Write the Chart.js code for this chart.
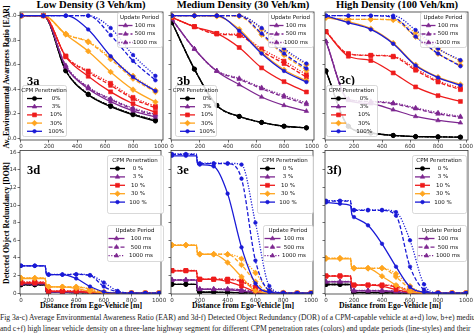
<!DOCTYPE html>
<html>
<head>
<meta charset="utf-8">
<script src="https://cdn.jsdelivr.net/npm/chart.js@4.4.0/dist/chart.umd.min.js"></script>
<style>
html, body { margin: 0; padding: 0; background: #fff; }
#fig { position: relative; width: 474px; height: 336px; overflow: hidden; }
#fig canvas { position: absolute; left: 0; top: 0; }
.head { position: absolute; top: -1px; font: bold 10.6px "Liberation Serif", serif; white-space: nowrap; transform: translateX(-50%); line-height: 12px; }
.ylab { position: absolute; font: bold 7.8px "Liberation Serif", serif; white-space: nowrap; transform: translate(-50%, -50%) rotate(-90deg); line-height: 9px; }
.xlab { position: absolute; top: 301px; font: bold 7.8px "Liberation Serif", serif; white-space: nowrap; transform: translateX(-50%); line-height: 9px; }
.cap { position: absolute; left: 0; font: 7.6px "Liberation Serif", serif; white-space: nowrap; line-height: 10px; color: #222; }
</style>
</head>
<body>
<div id="fig">
  <div class="head" style="left:91px">Low Density (3 Veh/km)</div>
  <div class="head" style="left:243px">Medium Density (30 Veh/km)</div>
  <div class="head" style="left:397px">High Density (100 Veh/km)</div>
  <div class="ylab" style="left:6px;top:77px">Av. Environmental Awareness Ratio [EAR]</div>
  <div class="ylab" style="left:6px;top:223px">Detected Object Redundancy [DOR]</div>
  <div class="xlab" style="left:91px">Distance from Ego-Vehicle [m]</div>
  <div class="xlab" style="left:243px">Distance from Ego-Vehicle [m]</div>
  <div class="xlab" style="left:390px">Distance from Ego-Vehicle [m]</div>
  <div class="cap" style="top:313px">Fig 3a-c) Average Environmental Awareness Ratio (EAR) and 3d-f) Detected Object Redundancy (DOR) of a CPM-capable vehicle at a+d) low, b+e) medium,</div>
  <div class="cap" style="top:324px">and c+f) high linear vehicle density on a three-lane highway segment for different CPM penetration rates (colors) and update periods (line-styles) and their</div>
</div>
<script>
// x positions and tick labels
const distTop = [0, 160, 320, 480, 640, 800, 960];
const distBottom = [0, 100, 175, 185, 200, 300, 400, 500, 600, 700, 800, 900, 1000];
const distTicks = [0, 200, 400, 600, 800, 1000];
const earTicks = [0, 0.2, 0.4, 0.6, 0.8, 1.0];
const dorTicks = [0, 2, 4, 6, 8, 10, 12, 14, 16];

const penetrationLabels = ['0%', '3%', '10%', '30%', '100%'];
const periodLabels = ['100 ms', '500 ms', '1000 ms'];

// EAR, low density (rows: 100 ms, 500 ms, 1000 ms)
const earLow0 = [[1, 1, 0.55, 0.357, 0.26, 0.193, 0.142], [1, 1, 0.553, 0.36, 0.264, 0.197, 0.146], [1, 1, 0.555, 0.362, 0.267, 0.2, 0.15]];
const earLow3 = [[1, 1, 0.583, 0.405, 0.3, 0.225, 0.175], [1, 1, 0.59, 0.414, 0.318, 0.24, 0.19], [1, 1, 0.595, 0.42, 0.325, 0.248, 0.198]];
const earLow10 = [[1, 1, 0.665, 0.507, 0.38, 0.283, 0.213], [1, 1, 0.67, 0.54, 0.433, 0.324, 0.25], [1, 1, 0.672, 0.55, 0.45, 0.335, 0.262]];
const earLow30 = [[1, 1, 0.847, 0.711, 0.542, 0.398, 0.297], [1, 1, 0.85, 0.785, 0.646, 0.488, 0.379], [1, 1, 0.852, 0.79, 0.66, 0.51, 0.392]];
const earLow100 = [[1, 1, 1, 0.888, 0.67, 0.501, 0.387], [1, 1, 1, 1, 0.842, 0.632, 0.474], [1, 1, 1, 1, 0.9, 0.68, 0.51]];

// EAR, medium density
const earMed0 = [[0.945, 0.565, 0.27, 0.18, 0.131, 0.1, 0.087], [0.945, 0.565, 0.27, 0.18, 0.131, 0.1, 0.087], [0.945, 0.565, 0.27, 0.18, 0.131, 0.1, 0.087]];
const earMed3 = [[0.97, 0.73, 0.548, 0.439, 0.338, 0.27, 0.223], [0.97, 0.73, 0.55, 0.482, 0.406, 0.338, 0.278], [0.97, 0.73, 0.552, 0.49, 0.415, 0.35, 0.29]];
const earMed10 = [[0.986, 0.91, 0.856, 0.741, 0.575, 0.463, 0.379], [0.986, 0.91, 0.85, 0.837, 0.711, 0.61, 0.5], [0.986, 0.912, 0.855, 0.845, 0.73, 0.63, 0.52]];
const earMed30 = [[1, 1, 0.995, 0.89, 0.7, 0.56, 0.47], [1, 1, 1, 0.995, 0.845, 0.68, 0.555], [1, 1, 1, 1, 0.89, 0.72, 0.6]];
const earMed100 = [[1, 1, 1, 0.877, 0.692, 0.55, 0.46], [1, 1, 1, 1, 0.855, 0.692, 0.57], [1, 1, 1, 1, 0.9, 0.733, 0.61]];

// EAR, high density
const earHigh0 = [[0.55, 0.1, 0.045, 0.025, 0.016, 0.014, 0.011], [0.55, 0.1, 0.045, 0.025, 0.016, 0.014, 0.011], [0.55, 0.1, 0.045, 0.025, 0.016, 0.014, 0.011]];
const earHigh3 = [[0.79, 0.31, 0.283, 0.234, 0.18, 0.147, 0.128], [0.79, 0.32, 0.3, 0.283, 0.243, 0.2, 0.174], [0.79, 0.32, 0.302, 0.29, 0.25, 0.21, 0.18]];
const earHigh10 = [[0.87, 0.67, 0.635, 0.534, 0.42, 0.349, 0.302], [0.87, 0.69, 0.676, 0.665, 0.556, 0.46, 0.398], [0.87, 0.69, 0.678, 0.67, 0.57, 0.47, 0.41]];
const earHigh30 = [[0.985, 0.95, 0.894, 0.777, 0.6, 0.5, 0.44], [0.985, 0.97, 0.97, 0.965, 0.828, 0.69, 0.597], [0.985, 0.97, 0.97, 0.97, 0.86, 0.73, 0.63]];
const earHigh100 = [[1, 0.943, 0.888, 0.771, 0.594, 0.496, 0.433], [1, 1, 1, 0.986, 0.83, 0.692, 0.589], [1, 1, 1, 1, 0.883, 0.733, 0.638]];

// DOR, low density
const dorLow0 = [[0.95, 0.95, 0.95, 0.08, 0.08, 0.08, 0.06, 0.03, 0.01, 0, 0, 0, 0], [0.95, 0.95, 0.95, 0.08, 0.08, 0.08, 0.06, 0.03, 0.01, 0, 0, 0, 0], [0.95, 0.95, 0.95, 0.08, 0.08, 0.08, 0.06, 0.03, 0.01, 0, 0, 0, 0]];
const dorLow3 = [[1.05, 1.05, 1.05, 0.12, 0.12, 0.12, 0.1, 0.05, 0.02, 0, 0, 0, 0], [1.05, 1.05, 1.05, 0.12, 0.12, 0.12, 0.12, 0.08, 0.03, 0, 0, 0, 0], [1.07, 1.07, 1.07, 0.13, 0.13, 0.13, 0.13, 0.1, 0.04, 0, 0, 0, 0]];
const dorLow10 = [[1.15, 1.15, 1.15, 0.2, 0.2, 0.2, 0.18, 0.08, 0.02, 0, 0, 0, 0], [1.22, 1.22, 1.22, 0.22, 0.22, 0.22, 0.22, 0.15, 0.04, 0, 0, 0, 0], [1.28, 1.28, 1.28, 0.24, 0.24, 0.24, 0.24, 0.18, 0.06, 0, 0, 0, 0]];
const dorLow30 = [[1.66, 1.66, 1.66, 0.72, 0.72, 0.7, 0.55, 0.2, 0.05, 0, 0, 0, 0], [1.7, 1.7, 1.7, 0.72, 0.72, 0.72, 0.7, 0.45, 0.1, 0.01, 0, 0, 0], [1.72, 1.72, 1.72, 0.72, 0.72, 0.72, 0.72, 0.5, 0.15, 0.02, 0, 0, 0]];
const dorLow100 = [[3.1, 3.1, 3.1, 2.1, 2.1, 2.1, 1.66, 0.75, 0.15, 0.02, 0, 0, 0], [3.1, 3.1, 3.1, 2.1, 2.1, 2.1, 2.12, 2.0, 0.75, 0.15, 0.01, 0, 0], [3.12, 3.12, 3.12, 2.12, 2.12, 2.12, 2.15, 2.05, 1.2, 0.25, 0.02, 0, 0]];

// DOR, medium density
const dorMed0 = [[1.0, 1.0, 1.0, 0.1, 0.1, 0.1, 0.08, 0.04, 0.01, 0, 0, 0, 0], [1.0, 1.0, 1.0, 0.1, 0.1, 0.1, 0.08, 0.04, 0.01, 0, 0, 0, 0], [1.0, 1.0, 1.0, 0.1, 0.1, 0.1, 0.08, 0.04, 0.01, 0, 0, 0, 0]];
const dorMed3 = [[1.47, 1.47, 1.47, 0.42, 0.42, 0.42, 0.38, 0.22, 0.06, 0.01, 0, 0, 0], [1.5, 1.5, 1.5, 0.45, 0.45, 0.45, 0.45, 0.35, 0.12, 0.02, 0, 0, 0], [1.52, 1.52, 1.52, 0.47, 0.47, 0.47, 0.47, 0.4, 0.18, 0.03, 0, 0, 0]];
const dorMed10 = [[2.53, 2.53, 2.53, 1.55, 1.55, 1.55, 1.3, 0.8, 0.2, 0.02, 0, 0, 0], [2.55, 2.55, 2.55, 1.58, 1.58, 1.58, 1.55, 1.3, 0.5, 0.05, 0, 0, 0], [2.57, 2.57, 2.57, 1.6, 1.6, 1.6, 1.6, 1.4, 0.7, 0.1, 0.01, 0, 0]];
const dorMed30 = [[5.43, 5.43, 5.43, 4.4, 4.4, 4.4, 3.47, 1.85, 0.25, 0.03, 0, 0, 0], [5.45, 5.45, 5.45, 4.42, 4.42, 4.42, 4.4, 3.2, 1.3, 0.1, 0, 0, 0], [5.47, 5.47, 5.47, 4.44, 4.44, 4.44, 4.42, 3.9, 2.3, 0.3, 0.02, 0, 0]];
const dorMed100 = [[15.6, 15.6, 15.6, 14.6, 14.6, 14.4, 11.3, 5.2, 1.1, 0.1, 0, 0, 0], [15.75, 15.75, 15.75, 14.7, 14.7, 14.7, 14.7, 13.0, 3.7, 0.3, 0.02, 0, 0], [15.8, 15.8, 15.8, 14.75, 14.75, 14.75, 14.75, 14.6, 8.0, 0.8, 0.05, 0, 0]];

// DOR, high density
const dorHigh0 = [[0.98, 0.98, 0.98, 0.05, 0.05, 0.05, 0.04, 0.02, 0.01, 0, 0, 0, 0], [0.98, 0.98, 0.98, 0.05, 0.05, 0.05, 0.04, 0.02, 0.01, 0, 0, 0, 0], [0.98, 0.98, 0.98, 0.05, 0.05, 0.05, 0.04, 0.02, 0.01, 0, 0, 0, 0]];
const dorHigh3 = [[1.28, 1.28, 1.28, 0.26, 0.26, 0.26, 0.22, 0.12, 0.03, 0, 0, 0, 0], [1.3, 1.3, 1.3, 0.28, 0.28, 0.28, 0.28, 0.2, 0.06, 0.01, 0, 0, 0], [1.32, 1.32, 1.32, 0.3, 0.3, 0.3, 0.3, 0.24, 0.1, 0.02, 0, 0, 0]];
const dorHigh10 = [[1.92, 1.92, 1.92, 0.9, 0.9, 0.9, 0.8, 0.4, 0.1, 0.01, 0, 0, 0], [1.95, 1.95, 1.95, 0.92, 0.92, 0.92, 0.92, 0.7, 0.2, 0.02, 0, 0, 0], [1.97, 1.97, 1.97, 0.93, 0.93, 0.93, 0.93, 0.8, 0.35, 0.05, 0, 0, 0]];
const dorHigh30 = [[3.9, 3.9, 3.9, 2.8, 2.8, 2.8, 1.92, 0.9, 0.15, 0.01, 0, 0, 0], [3.95, 3.95, 3.95, 2.82, 2.82, 2.82, 2.82, 1.85, 0.5, 0.05, 0, 0, 0], [3.97, 3.97, 3.97, 2.85, 2.85, 2.85, 2.85, 2.2, 0.8, 0.08, 0, 0, 0]];
const dorHigh100 = [[10.3, 10.15, 9.95, 8.9, 8.64, 7.7, 5.6, 3.0, 0.7, 0.1, 0, 0, 0], [10.45, 10.45, 10.45, 9.4, 9.4, 9.4, 9.4, 8.8, 3.0, 0.4, 0.02, 0, 0], [10.5, 10.5, 10.5, 9.45, 9.45, 9.45, 9.45, 9.2, 6.0, 1.0, 0.05, 0, 0]];

// styles per penetration / per update period
const colors = ['#000000', '#7d2790', '#ee1c1c', '#ffa51f', '#1a1ad6'];
const markers = ['circle', 'triangle', 'rect', 'rectRot', 'circle'];
const markerSizes = [2.1, 2.6, 2.8, 2.8, 1.8];
const dashes = [[], [4, 2], [1.2, 1.5]];

const W = 474, H = 336;
const fig = document.getElementById('fig');

function drawMarker(ctx, style, r, x, y, color) {
    ctx.fillStyle = color;
    ctx.strokeStyle = color;
    ctx.lineWidth = 0.6;
    if (Chart.helpers && Chart.helpers.drawPoint) {
        Chart.helpers.drawPoint(ctx, { pointStyle: style, rotation: 0, radius: r, borderWidth: 0.6 }, x, y);
    } else {
        ctx.beginPath();
        ctx.arc(x, y, r, 0, Math.PI * 2);
        ctx.fill();
    }
}

function drawLegend(ctx, lg) {
    ctx.save();
    ctx.fillStyle = 'rgba(255,255,255,0.85)';
    ctx.strokeStyle = '#c8c8c8';
    ctx.lineWidth = 0.7;
    ctx.beginPath();
    ctx.roundRect(lg.x + 0.5, lg.y + 0.5, lg.w, lg.h, 2);
    ctx.fill();
    ctx.stroke();

    ctx.font = '5.5px "DejaVu Sans"';
    ctx.textAlign = 'center';
    ctx.textBaseline = 'middle';
    ctx.fillStyle = '#111';
    ctx.fillText(lg.title, lg.x + lg.w / 2, lg.y + 5.5);

    lg.items.forEach((it, k) => {
        const yy = lg.y + 13.5 + k * lg.step;
        const x0 = lg.x + lg.lx, x1 = x0 + lg.ll;
        ctx.strokeStyle = it.color;
        ctx.lineWidth = 1.3;
        ctx.setLineDash(it.dash);
        ctx.beginPath();
        ctx.moveTo(x0, yy);
        ctx.lineTo(x1, yy);
        ctx.stroke();
        ctx.setLineDash([]);
        drawMarker(ctx, it.marker, it.size, (x0 + x1) / 2, yy, it.color);
        ctx.fillStyle = '#111';
        ctx.fillText(it.label, lg.x + lg.tx, yy);
    });
    ctx.restore();
}

function cpmItems(bottom) {
    return penetrationLabels.map((l, i) => ({
        label: bottom ? l.replace('%', ' %') : l,
        color: colors[i], dash: [], marker: markers[i], size: markerSizes[i]
    }));
}

function periodItems() {
    return periodLabels.map((l, j) => ({
        label: l, color: colors[1], dash: dashes[j], marker: 'triangle', size: 2.6
    }));
}

function makePanel(p) {
    const canvas = document.createElement('canvas');
    canvas.width = W;
    canvas.height = H;
    fig.appendChild(canvas);

    const datasets = [];
    p.series.forEach((rows, i) => {
        rows.forEach((vals, j) => {
            datasets.push({
                label: penetrationLabels[i] + ' ' + periodLabels[j],
                data: vals.map((v, k) => ({ x: p.xs[k], y: v })),
                borderColor: colors[i],
                backgroundColor: colors[i],
                borderWidth: 1.3,
                borderDash: dashes[j],
                pointStyle: markers[i],
                pointRadius: p.xs.map(x => (x % p.markStep === 0 ? markerSizes[i] : 0)),
                pointBorderWidth: 0.6,
                cubicInterpolationMode: 'monotone',
                fill: false,
                order: (4 - i) * 3 + j
            });
        });
    });

    const [left, top, right, bottom] = p.box;
    const tickFont = { family: 'DejaVu Sans', size: 5.6 };

    return new Chart(canvas, {
        type: 'line',
        data: { datasets },
        options: {
            responsive: false,
            animation: false,
            devicePixelRatio: 1,
            events: [],
            layout: { padding: { left: 0, top: top, right: W - right, bottom: 0 } },
            plugins: { legend: { display: false }, tooltip: { enabled: false } },
            scales: {
                x: {
                    type: 'linear', min: -7, max: 1014,
                    afterBuildTicks: s => { s.ticks = distTicks.map(v => ({ value: v })); },
                    afterFit: s => { s.height = H - bottom; s.paddingLeft = 0; s.paddingRight = 0; },
                    grid: { drawOnChartArea: false, tickLength: 2.5, color: '#333', lineWidth: 0.7 },
                    border: { display: false },
                    ticks: {
                        font: tickFont, color: '#333', padding: 1, maxRotation: 0, autoSkip: false,
                        callback: v => String(v)
                    }
                },
                y: {
                    type: 'linear', min: p.yMin, max: p.yMax,
                    afterBuildTicks: s => { s.ticks = p.yTicks.map(v => ({ value: v })); },
                    afterFit: s => { s.width = left; s.paddingTop = 0; s.paddingBottom = 0; },
                    grid: { drawOnChartArea: false, tickLength: 2.5, color: '#333', lineWidth: 0.7 },
                    border: { display: false },
                    ticks: {
                        display: p.showY, font: tickFont, color: '#333', padding: 1, autoSkip: false,
                        callback: v => p.fmt(v)
                    }
                }
            }
        },
        plugins: [{
            id: 'frameAndLegends',
            afterDraw(chart) {
                const ctx = chart.ctx, a = chart.chartArea;
                ctx.save();
                ctx.strokeStyle = '#333';
                ctx.lineWidth = 0.8;
                ctx.strokeRect(a.left, a.top, a.right - a.left, a.bottom - a.top);
                ctx.fillStyle = '#000';
                ctx.font = 'bold 12.5px "Liberation Serif"';
                ctx.textAlign = 'left';
                ctx.textBaseline = 'alphabetic';
                ctx.fillText(p.tag, p.tagPos[0], p.tagPos[1]);
                ctx.restore();
                p.legends.forEach(lg => drawLegend(ctx, lg));
            }
        }]
    });
}

const topCommon = {
    xs: distTop, markStep: 160, yMin: -0.012, yMax: 1.03, yTicks: earTicks,
    fmt: v => v.toFixed(1)
};
const botCommon = {
    xs: distBottom, markStep: 100, yMin: -0.1, yMax: 16.2, yTicks: dorTicks,
    fmt: v => String(v)
};

function topLegends(cpm, up) {
    return [
        { x: up[0], y: 12, w: up[1], h: 35, title: 'Update Period', items: periodItems(), step: 8.5, lx: 1.5, ll: 14, tx: 28 },
        { x: cpm[0], y: 85, w: cpm[1], h: 51, title: 'CPM Penetration', items: cpmItems(false), step: 8.2, lx: 5, ll: 15, tx: cpm[2] }
    ];
}

function botLegends(cpm, up) {
    return [
        { x: cpm[0], y: 155, w: cpm[1], h: 58, title: 'CPM Penetration', items: cpmItems(true), step: 8.4, lx: 3, ll: 15, tx: 31 },
        { x: up[0], y: 225, w: up[1], h: 36, title: 'Update Period', items: periodItems(), step: 8.6, lx: 1.5, ll: 16, tx: up[2] }
    ];
}

makePanel(Object.assign({}, topCommon, {
    box: [20, 12, 163, 140], showY: true, tag: '3a', tagPos: [27, 85],
    series: [earLow0, earLow3, earLow10, earLow30, earLow100],
    legends: topLegends([22, 44, 34], [117, 45])
}));
makePanel(Object.assign({}, topCommon, {
    box: [171, 12, 314, 140], showY: false, tag: '3b', tagPos: [177, 85],
    series: [earMed0, earMed3, earMed10, earMed30, earMed100],
    legends: topLegends([175, 41, 32], [268, 45])
}));
makePanel(Object.assign({}, topCommon, {
    box: [325, 12, 468, 140], showY: false, tag: '3c)', tagPos: [339, 84],
    series: [earHigh0, earHigh3, earHigh10, earHigh30, earHigh100],
    legends: topLegends([326, 51, 38], [420, 46])
}));
makePanel(Object.assign({}, botCommon, {
    box: [20, 150.5, 161, 294], showY: true, tag: '3d', tagPos: [27, 174],
    series: [dorLow0, dorLow3, dorLow10, dorLow30, dorLow100],
    legends: botLegends([107, 56], [107, 56, 34])
}));
makePanel(Object.assign({}, botCommon, {
    box: [171, 150.5, 313, 294], showY: false, tag: '3e', tagPos: [177, 174],
    series: [dorMed0, dorMed3, dorMed10, dorMed30, dorMed100],
    legends: botLegends([257, 56], [263, 50, 31])
}));
makePanel(Object.assign({}, botCommon, {
    box: [325, 150.5, 468, 294], showY: false, tag: '3f)', tagPos: [327, 174],
    series: [dorHigh0, dorHigh3, dorHigh10, dorHigh30, dorHigh100],
    legends: botLegends([412, 54], [417, 49, 31])
}));
</script>
</body>
</html>
